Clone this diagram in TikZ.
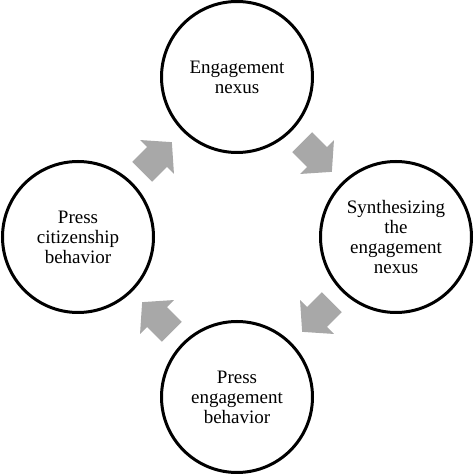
\documentclass[tikz,border=0pt]{standalone}
\usepackage{fontspec}
\setmainfont{Liberation Serif}
\definecolor{arrowgray}{RGB}{168,168,168}
\tikzset{
  stage/.style={circle, draw=black, line width=3pt, fill=white, minimum size=151pt, inner sep=0pt, align=center, font=\fontsize{19}{20}\selectfont},
  blockarrow/.style={fill=arrowgray, draw=none}
}
\begin{document}
\begin{tikzpicture}[x=1pt,y=1pt]
\useasboundingbox (0,0) rectangle (474,474);
\node[stage] (top) at (237,397) {Engagement\\nexus};
\node[stage] (right) at (396,237) {Synthesizing\\the\\engagement\\nexus};
\node[stage] (bottom) at (237,77) {Press\\engagement\\behavior};
\node[stage] (left) at (78,237) {Press\\citizenship\\behavior};
\foreach \cx/\cy/\ang in {157/317/45, 317/317/-45, 317/157/-135, 157/157/135}{
  \fill[blockarrow, shift={(\cx,\cy)}, rotate=\ang]
    (-21,-14) -- (0,-14) -- (0,-24) -- (21,0) -- (0,24) -- (0,14) -- (-21,14) -- cycle;
}
\end{tikzpicture}
\end{document}
